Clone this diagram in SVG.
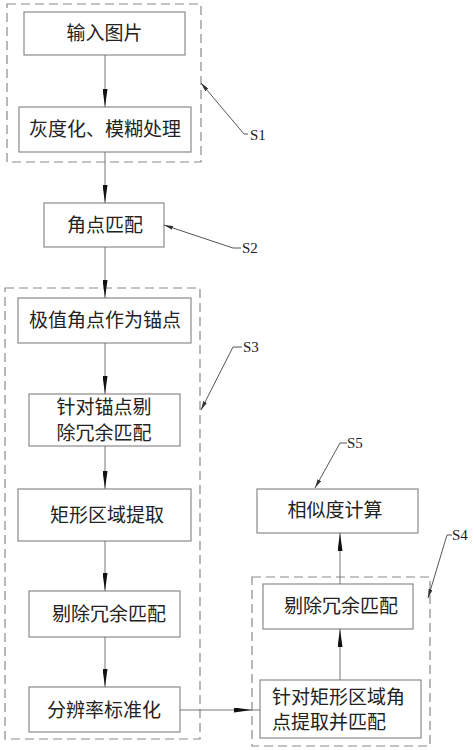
<svg xmlns="http://www.w3.org/2000/svg" width="474" height="750" viewBox="0 0 474 750">
<defs>
<marker id="ah" viewBox="0 0 18 5" refX="18" refY="2.5" markerWidth="18" markerHeight="5" markerUnits="userSpaceOnUse" orient="auto">
<path d="M0,0 L18,2.5 L0,5 Z" fill="#111"/>
</marker>
<marker id="sa" viewBox="0 0 9 4" refX="9" refY="2" markerWidth="9" markerHeight="4" markerUnits="userSpaceOnUse" orient="auto">
<path d="M0,0 L9,2 L0,4 Z" fill="#333"/>
</marker>
</defs>
<style>
.box{fill:#fff;stroke:#8a8a8a;stroke-width:1.2}
.grp{fill:none;stroke:#8a8a8a;stroke-width:1.2;stroke-dasharray:9,5}
.t{font-family:"Noto Sans CJK SC","Noto Sans",sans-serif;font-size:19px;fill:#222}
.lab{font-family:"Liberation Serif",serif;font-size:15px;fill:#222}
.c{fill:none;stroke:#777;stroke-width:1}
.l{fill:none;stroke:#444;stroke-width:0.9}
</style>
<rect width="474" height="750" fill="#fff"/>
<g id="S1-group"><rect class="grp" x="7" y="4" width="194" height="158"/></g>
<g id="S3-group"><rect class="grp" x="5" y="288" width="195" height="451"/></g>
<g id="S4-group"><rect class="grp" x="252" y="577" width="178" height="169"/></g>
<g id="n1"><rect class="box" x="24" y="12" width="161" height="43"/><text class="t" x="104.5" y="40" text-anchor="middle">输入图片</text></g>
<g id="n2"><rect class="box" x="19" y="107" width="172" height="45"/><text class="t" x="105" y="136" text-anchor="middle">灰度化、模糊处理</text></g>
<g id="n3"><rect class="box" x="44" y="203" width="120" height="44"/><text class="t" x="105" y="232" text-anchor="middle">角点匹配</text></g>
<g id="n4"><rect class="box" x="18" y="298" width="173" height="45"/><text class="t" x="105" y="327" text-anchor="middle">极值角点作为锚点</text></g>
<g id="n5"><rect class="box" x="29" y="394" width="151" height="52"/><text class="t" x="104" y="414" text-anchor="middle">针对锚点剔</text><text class="t" x="104" y="440" text-anchor="middle">除冗余匹配</text></g>
<g id="n6"><rect class="box" x="18" y="489" width="173" height="52"/><text class="t" x="107" y="522" text-anchor="middle">矩形区域提取</text></g>
<g id="n7"><rect class="box" x="29" y="591" width="151" height="46"/><text class="t" x="109" y="621" text-anchor="middle">剔除冗余匹配</text></g>
<g id="n8"><rect class="box" x="29" y="687" width="151" height="45"/><text class="t" x="104" y="717" text-anchor="middle">分辨率标准化</text></g>
<g id="n9"><rect class="box" x="260" y="680" width="161" height="58"/><text class="t" x="272" y="704">针对矩形区域角</text><text class="t" x="272" y="729">点提取并匹配</text></g>
<g id="n10"><rect class="box" x="263" y="584" width="150" height="45"/><text class="t" x="341" y="613" text-anchor="middle">剔除冗余匹配</text></g>
<g id="n11"><rect class="box" x="257" y="489" width="161" height="44"/><text class="t" x="335" y="517" text-anchor="middle">相似度计算</text></g>
<g id="connectors">
<path class="c" d="M105,55 V107" marker-end="url(#ah)"/>
<path class="c" d="M105,152 V203" marker-end="url(#ah)"/>
<path class="c" d="M105,247 V298" marker-end="url(#ah)"/>
<path class="c" d="M105,343 V394" marker-end="url(#ah)"/>
<path class="c" d="M105,446 V489" marker-end="url(#ah)"/>
<path class="c" d="M105,541 V591" marker-end="url(#ah)"/>
<path class="c" d="M105,637 V687" marker-end="url(#ah)"/>
<path class="c" d="M180,710 H252" marker-end="url(#ah)"/>
<path class="c" d="M252,710 H260"/>
<path class="c" d="M340,680 V629" marker-end="url(#ah)"/>
<path class="c" d="M340,584 V533" marker-end="url(#ah)"/>
</g>
<g id="leaders">
<path class="l" d="M248,134 H244 L201,83" marker-end="url(#sa)"/>
<path class="l" d="M241,248 H233 L164,225" marker-end="url(#sa)"/>
<path class="l" d="M242,347 H233 L201,410" marker-end="url(#sa)"/>
<path class="l" d="M452,535 H447 L428,598" marker-end="url(#sa)"/>
<path class="l" d="M347,443 H340 L315,488" marker-end="url(#sa)"/>
<text class="lab" x="250" y="140">S1</text>
<text class="lab" x="242" y="253">S2</text>
<text class="lab" x="243" y="352">S3</text>
<text class="lab" x="452" y="540">S4</text>
<text class="lab" x="347" y="448">S5</text>
</g>
</svg>
